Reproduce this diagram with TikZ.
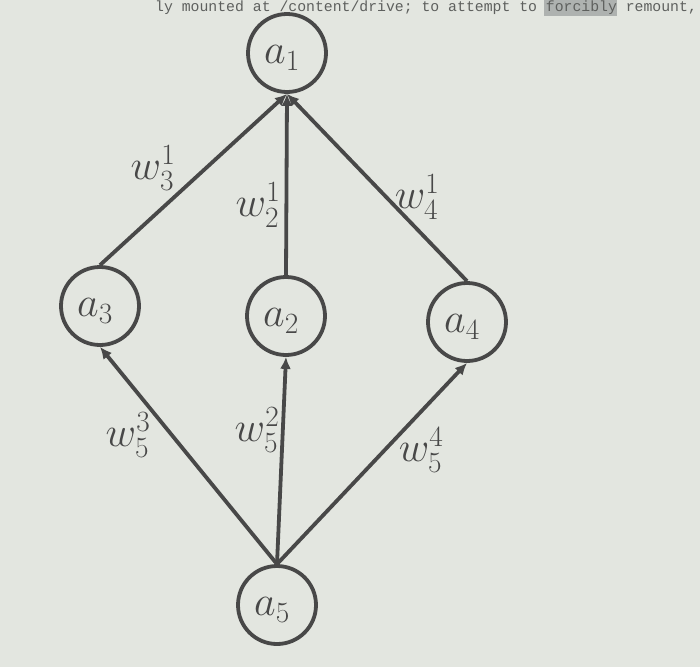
\RequirePackage{fix-cm}
\documentclass[tikz,border=0pt]{standalone}
\usepackage{fontspec}
\setmonofont{Liberation Mono}
\usetikzlibrary{arrows.meta}
\definecolor{bg}{HTML}{E3E6E0}
\definecolor{ink}{HTML}{484848}
\definecolor{txt}{HTML}{5E605E}
\definecolor{hl}{HTML}{AEB2B0}
\begin{document}
\begin{tikzpicture}[x=1pt,y=-1pt,
  neuron/.style={circle,draw=ink,line width=3.8pt,minimum size=78pt,inner sep=0pt},
  nlabel/.style={font=\fontsize{42}{48}\selectfont,text=ink,inner sep=0pt,xshift=-5pt,yshift=-5pt},
  wlabel/.style={font=\fontsize{42}{48}\selectfont,text=ink,inner sep=0pt},
  link/.style={draw=ink,line width=3.8pt,-{Latex[length=12pt,width=11pt]}},
  screentext/.style={anchor=base west,inner sep=0pt,text=txt,
    font=\ttfamily\fontsize{14.8}{16}\selectfont}]
\useasboundingbox (0,0) rectangle (700,667);
\fill[bg] (0,0) rectangle (700,667);
% screen text at the top (cut off)
\fill[hl] (544,-2) rectangle (617,16);
\node[screentext] (topline) at (155,11) {ly mounted at /content/drive; to attempt to forcibly remount,};
% neurons
\node[neuron,label={[nlabel]center:$a_1$}] (a1) at (287,53)  {};
\node[neuron,label={[nlabel]center:$a_3$}] (a3) at (100,306) {};
\node[neuron,label={[nlabel]center:$a_2$}] (a2) at (286,316) {};
\node[neuron,label={[nlabel]center:$a_4$}] (a4) at (467,322) {};
\node[neuron,label={[nlabel]center:$a_5$}] (a5) at (277,605) {};
% connections
\draw[link] (a3.north) -- (a1.south);
\draw[link] (a2.north) -- (a1.south);
\draw[link] (a4.north) -- (a1.south);
\draw[link] (a5.north) -- (a3.south);
\draw[link] (a5.north) -- (a2.south);
\draw[link] (a5.north) -- (a4.south);
% weights
\node[wlabel] (w31) at (153,168) {$w_3^1$};
\node[wlabel] (w21) at (258,205) {$w_2^1$};
\node[wlabel] (w41) at (417,197) {$w_4^1$};
\node[wlabel] (w53) at (128,435) {$w_5^3$};
\node[wlabel] (w52) at (257,430) {$w_5^2$};
\node[wlabel] (w54) at (421,450) {$w_5^4$};
\end{tikzpicture}
\end{document}
